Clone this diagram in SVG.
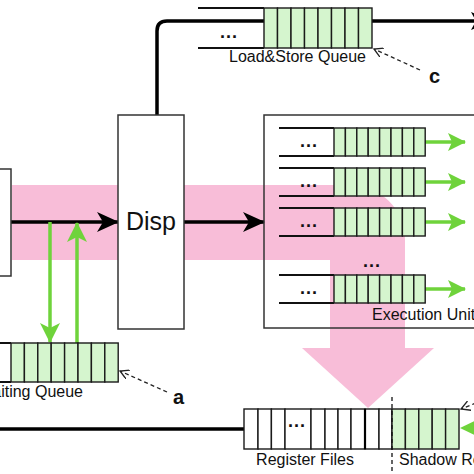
<svg xmlns="http://www.w3.org/2000/svg" width="474" height="474" viewBox="0 0 474 474">
<style>
text{font-family:"Liberation Sans",Arial,sans-serif;fill:#111}
.lbl{font-size:16px}
.big{font-size:25px}
.tag{font-size:20px;font-weight:bold}
.dots{font-size:18px;font-weight:bold;letter-spacing:1px}
.box{fill:#fff;stroke:#333;stroke-width:1.5}
.obox{fill:none;stroke:#333;stroke-width:1.5}
.qline{stroke:#111;stroke-width:2;fill:none}
.cell{fill:#D5F5CE;stroke:#1a1a1a;stroke-width:1.4}
.wcell{fill:#fff;stroke:#1a1a1a;stroke-width:1.4}
.thick{stroke:#000;stroke-width:3.5;fill:none}
.garrow{stroke:#6FD33B;stroke-width:3.5;fill:none}
.dash{stroke:#222;stroke-width:1.3;stroke-dasharray:4,3;fill:none}
</style>
<defs>
<marker id="bk" markerUnits="userSpaceOnUse" viewBox="0 0 22 20" markerWidth="22" markerHeight="20" refX="21" refY="10" orient="auto">
<path d="M0,0 L22,10 L0,20 L6,10 Z" fill="#000"/>
</marker>
<marker id="gn" markerUnits="userSpaceOnUse" viewBox="0 0 20 20" markerWidth="20" markerHeight="20" refX="19" refY="10" orient="auto">
<path d="M0,0 L20,10 L0,20 L5,10 Z" fill="#6FD33B"/>
</marker>
<marker id="gs" markerUnits="userSpaceOnUse" viewBox="0 0 18 18" markerWidth="18" markerHeight="18" refX="17" refY="9" orient="auto">
<path d="M0,0 L18,9 L0,18 L4,9 Z" fill="#6FD33B"/>
</marker>
<marker id="op" markerUnits="userSpaceOnUse" viewBox="0 0 10 10" markerWidth="10" markerHeight="10" refX="9" refY="5" orient="auto">
<path d="M0,0 L9,5 L0,10" fill="none" stroke="#222" stroke-width="1.3"/>
</marker>
</defs>

<g id="flow-band">
<path d="M12,185 H350 A55,55 0 0 1 405,240 V348 H434 L368,408 L302,348 H330 V260 H12 Z" fill="#F8BDD8"/>
</g>

<g id="connectors">
<path class="thick" d="M157,115 V31 Q157,21 167,21 H474"/>
<path d="M471,12 L492,21 L471,30 L476,21 Z" fill="#000"/>
<line class="thick" x1="0" y1="429" x2="245" y2="429"/>
<line x1="11" y1="222" x2="118" y2="222" stroke="#000" stroke-width="3.5" marker-end="url(#bk)"/>
<line x1="184" y1="222" x2="264" y2="222" stroke="#000" stroke-width="3.5" marker-end="url(#bk)"/>
<line class="garrow" x1="50" y1="222" x2="50" y2="342" marker-end="url(#gn)"/>
<line class="garrow" x1="77" y1="343" x2="77" y2="223" marker-end="url(#gn)"/>
<line class="garrow" x1="425" y1="142" x2="465" y2="142" marker-end="url(#gs)"/>
<line class="garrow" x1="425" y1="182" x2="465" y2="182" marker-end="url(#gs)"/>
<line class="garrow" x1="425" y1="222" x2="465" y2="222" marker-end="url(#gs)"/>
<line class="garrow" x1="425" y1="289" x2="465" y2="289" marker-end="url(#gs)"/>
<polygon points="460,428 479,419 479,437" fill="#6FD33B"/>
<line class="dash" x1="167" y1="392" x2="120" y2="371" marker-end="url(#op)"/>
<line class="dash" x1="420" y1="70" x2="374" y2="49" marker-end="url(#op)"/>
<line class="dash" x1="476" y1="403" x2="461" y2="409" marker-end="url(#op)"/>
</g>

<g id="input-box">
<rect class="box" x="-10" y="169" width="21" height="107"/>
</g>

<g id="disp">
<rect class="box" x="118" y="115" width="66" height="214"/>
<text class="big" x="151" y="230" text-anchor="middle">Disp</text>
</g>

<g id="waiting-queue">
<line class="qline" x1="0" y1="343" x2="11" y2="343"/>
<line class="qline" x1="0" y1="382" x2="11" y2="382"/>
<rect class="cell" x="11" y="343" width="13.4" height="39"/>
<rect class="cell" x="24.4" y="343" width="13.4" height="39"/>
<rect class="cell" x="37.8" y="343" width="13.4" height="39"/>
<rect class="cell" x="51.2" y="343" width="13.4" height="39"/>
<rect class="cell" x="64.6" y="343" width="13.4" height="39"/>
<rect class="cell" x="78" y="343" width="13.4" height="39"/>
<rect class="cell" x="91.4" y="343" width="13.4" height="39"/>
<rect class="cell" x="104.8" y="343" width="13.4" height="39"/>
<text class="lbl" x="83" y="397" text-anchor="end">Waiting Queue</text>
<text class="tag" x="173" y="404">a</text>
</g>

<g id="load-store-queue">
<line class="qline" x1="198" y1="8" x2="264" y2="8"/>
<line class="qline" x1="198" y1="48" x2="264" y2="48"/>
<text class="dots" x="220" y="38">...</text>
<rect class="cell" x="264" y="8" width="13.5" height="40"/>
<rect class="cell" x="277.5" y="8" width="13.5" height="40"/>
<rect class="cell" x="291" y="8" width="13.5" height="40"/>
<rect class="cell" x="304.5" y="8" width="13.5" height="40"/>
<rect class="cell" x="318" y="8" width="13.5" height="40"/>
<rect class="cell" x="331.5" y="8" width="13.5" height="40"/>
<rect class="cell" x="345" y="8" width="13.5" height="40"/>
<rect class="cell" x="358.5" y="8" width="13.5" height="40"/>
<text class="lbl" x="229" y="62">Load&amp;Store Queue</text>
<text class="tag" x="429" y="83">c</text>
</g>

<g id="execution-unit">
<rect class="obox" x="264" y="115" width="230" height="213"/>
<g id="row1">
<line class="qline" x1="279" y1="128" x2="334" y2="128"/><line class="qline" x1="279" y1="156" x2="334" y2="156"/>
<text class="dots" x="300" y="147">...</text>
<rect class="cell" x="334" y="128" width="11.4" height="28"/><rect class="cell" x="345.4" y="128" width="11.4" height="28"/><rect class="cell" x="356.8" y="128" width="11.4" height="28"/><rect class="cell" x="368.2" y="128" width="11.4" height="28"/><rect class="cell" x="379.6" y="128" width="11.4" height="28"/><rect class="cell" x="391" y="128" width="11.4" height="28"/><rect class="cell" x="402.4" y="128" width="11.4" height="28"/><rect class="cell" x="413.8" y="128" width="11.4" height="28"/>
</g>
<g id="row2">
<line class="qline" x1="279" y1="168" x2="334" y2="168"/><line class="qline" x1="279" y1="196" x2="334" y2="196"/>
<text class="dots" x="300" y="187">...</text>
<rect class="cell" x="334" y="168" width="11.4" height="28"/><rect class="cell" x="345.4" y="168" width="11.4" height="28"/><rect class="cell" x="356.8" y="168" width="11.4" height="28"/><rect class="cell" x="368.2" y="168" width="11.4" height="28"/><rect class="cell" x="379.6" y="168" width="11.4" height="28"/><rect class="cell" x="391" y="168" width="11.4" height="28"/><rect class="cell" x="402.4" y="168" width="11.4" height="28"/><rect class="cell" x="413.8" y="168" width="11.4" height="28"/>
</g>
<g id="row3">
<line class="qline" x1="279" y1="208" x2="334" y2="208"/><line class="qline" x1="279" y1="236" x2="334" y2="236"/>
<text class="dots" x="300" y="227">...</text>
<rect class="cell" x="334" y="208" width="11.4" height="28"/><rect class="cell" x="345.4" y="208" width="11.4" height="28"/><rect class="cell" x="356.8" y="208" width="11.4" height="28"/><rect class="cell" x="368.2" y="208" width="11.4" height="28"/><rect class="cell" x="379.6" y="208" width="11.4" height="28"/><rect class="cell" x="391" y="208" width="11.4" height="28"/><rect class="cell" x="402.4" y="208" width="11.4" height="28"/><rect class="cell" x="413.8" y="208" width="11.4" height="28"/>
</g>
<text class="dots" x="363" y="267">...</text>
<g id="row4">
<line class="qline" x1="279" y1="275" x2="334" y2="275"/><line class="qline" x1="279" y1="303" x2="334" y2="303"/>
<text class="dots" x="300" y="294">...</text>
<rect class="cell" x="334" y="275" width="11.4" height="28"/><rect class="cell" x="345.4" y="275" width="11.4" height="28"/><rect class="cell" x="356.8" y="275" width="11.4" height="28"/><rect class="cell" x="368.2" y="275" width="11.4" height="28"/><rect class="cell" x="379.6" y="275" width="11.4" height="28"/><rect class="cell" x="391" y="275" width="11.4" height="28"/><rect class="cell" x="402.4" y="275" width="11.4" height="28"/><rect class="cell" x="413.8" y="275" width="11.4" height="28"/>
</g>
<text class="lbl" x="372" y="320">Execution Unit</text>
</g>

<g id="register-files">
<rect class="wcell" x="244" y="409" width="14" height="40"/>
<rect class="wcell" x="258" y="409" width="13.4" height="40"/>
<rect class="wcell" x="271.4" y="409" width="13.6" height="40"/>
<rect class="wcell" x="285" y="409" width="26" height="40"/>
<text class="dots" x="288" y="427">...</text>
<rect class="wcell" x="311" y="409" width="14" height="40"/>
<rect class="wcell" x="325" y="409" width="13" height="40"/>
<rect class="wcell" x="338" y="409" width="13" height="40"/>
<rect class="wcell" x="351" y="409" width="14" height="40"/>
<rect class="wcell" x="365" y="409" width="14" height="40"/>
<line x1="365" y1="409" x2="365" y2="449" stroke="#000" stroke-width="2.2"/>
<rect class="wcell" x="379" y="409" width="13" height="40"/>
<text class="lbl" x="305" y="465" text-anchor="middle">Register Files</text>
</g>

<g id="shadow-registers">
<rect class="cell" x="392" y="409" width="13.4" height="40"/>
<rect class="cell" x="405.4" y="409" width="13.4" height="40"/>
<rect class="cell" x="418.8" y="409" width="13.4" height="40"/>
<rect class="cell" x="432.2" y="409" width="13.4" height="40"/>
<rect class="cell" x="445.6" y="409" width="13.4" height="40"/>
<line x1="392" y1="397" x2="392" y2="472" stroke="#111" stroke-width="1.3" stroke-dasharray="4,3"/>
<text class="lbl" x="399" y="465">Shadow Registers</text>
</g>
</svg>
